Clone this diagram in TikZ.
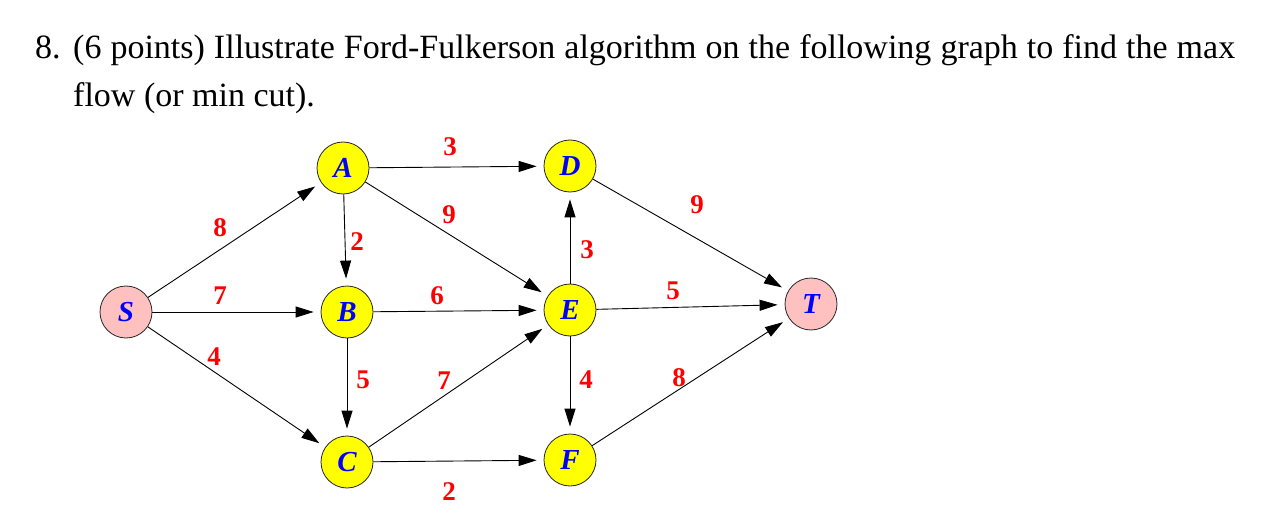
\documentclass[tikz,border=0pt]{standalone}
\usepackage{fontspec}
\setmainfont{Liberation Serif}
\usetikzlibrary{arrows.meta}
\definecolor{nodeyellow}{RGB}{255,255,0}
\definecolor{nodepink}{RGB}{255,192,192}
\definecolor{lblred}{RGB}{255,0,0}
\definecolor{lblblue}{RGB}{0,0,255}
\begin{document}
\begin{tikzpicture}[x=1pt,y=-1pt,
  vert/.style={circle,draw=black!85,line width=0.8pt,fill=nodeyellow,minimum size=52pt,inner sep=0pt,
    font=\fontsize{29}{29}\selectfont\bfseries\itshape,text=lblblue},
  termv/.style={vert,fill=nodepink},
  capnum/.style={font=\fontsize{27}{27}\selectfont\bfseries,text=lblred,inner sep=0pt},
  arc/.style={draw=black,line width=0.9pt,-{Triangle[length=18pt,width=11pt]},shorten >=7pt},
  txt/.style={inner sep=0pt,anchor=base west,font=\fontsize{34}{48}\selectfont}]
\useasboundingbox (0,0) rectangle (1286,532);
% heading
\node[txt] (num) at (35,59) {8.};
\node[txt] (l1) at (73,59) {\makebox[1162pt][s]{(6 points) Illustrate Ford-Fulkerson algorithm on the following graph to find the max}};
\node[txt] (l2) at (73,107) {flow (or min cut).};
% vertices
\node[termv] (S) at (126,312) {S};
\node[vert] (A) at (343,168) {A};
\node[vert] (B) at (347,312) {B};
\node[vert] (C) at (347,462) {C};
\node[vert] (D) at (570,166) {D};
\node[vert] (E) at (570,310) {E};
\node[vert] (F) at (570,460) {F};
\node[termv] (T) at (811,304) {T};
% edges
\draw[arc] (S) -- (A);
\draw[arc] (S) -- (B);
\draw[arc] (S) -- (C);
\draw[arc] (A) -- (D);
\draw[arc] (A) -- (B);
\draw[arc] (A) -- (E);
\draw[arc] (B) -- (E);
\draw[arc] (B) -- (C);
\draw[arc] (C) -- (E);
\draw[arc] (C) -- (F);
\draw[arc] (E) -- (D);
\draw[arc] (E) -- (T);
\draw[arc] (E) -- (F);
\draw[arc] (D) -- (T);
\draw[arc] (F) -- (T);
% capacities
\node[capnum] (cAD) at (450,147) {3};
\node[capnum] (cSA) at (220,228) {8};
\node[capnum] (cAE) at (449,215) {9};
\node[capnum] (cAB) at (357,242) {2};
\node[capnum] (cED) at (587,250) {3};
\node[capnum] (cDT) at (697,205) {9};
\node[capnum] (cSB) at (220,296) {7};
\node[capnum] (cBE) at (437,296) {6};
\node[capnum] (cET) at (673,291) {5};
\node[capnum] (cSC) at (214,357) {4};
\node[capnum] (cBC) at (363,380) {5};
\node[capnum] (cCE) at (444,381) {7};
\node[capnum] (cEF) at (586,380) {4};
\node[capnum] (cFT) at (679,378) {8};
\node[capnum] (cCF) at (449,492) {2};
\end{tikzpicture}
\end{document}
